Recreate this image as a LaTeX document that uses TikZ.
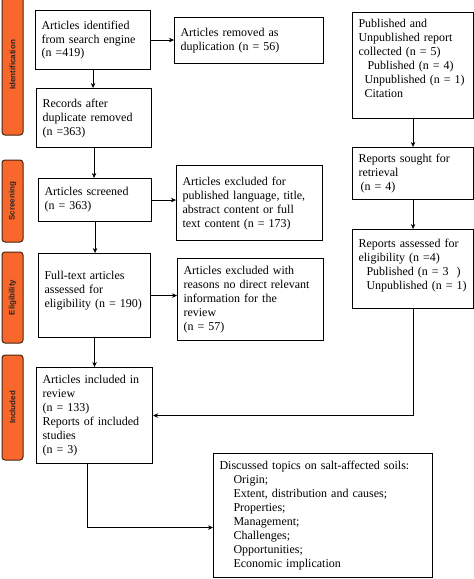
\documentclass[tikz,border=0pt]{standalone}
\usepackage{fontspec}
\setmainfont{Liberation Serif}
\setsansfont{Liberation Sans}
\usepackage{xcolor}
\usetikzlibrary{arrows.meta,calc}
\definecolor{phaseorange}{HTML}{F8682C}
\definecolor{phaseedge}{HTML}{4A2410}

\begin{document}
\begin{tikzpicture}[x=1pt,y=-1pt,>={Stealth[length=5pt,width=4.5pt]},
 box/.style={draw,line width=1.1pt,align=left,anchor=north west,inner xsep=6pt,inner ysep=2pt,font=\fontsize{12}{14}\selectfont},
 phase/.style={draw=phaseedge,line width=1pt,fill=phaseorange,rounded corners=3pt,rotate=90,minimum height=21pt,inner sep=0pt,font=\sffamily\bfseries\fontsize{8}{9}\selectfont,text=black!85},
 link/.style={->,line width=0.9pt}]
\useasboundingbox (0,0) rectangle (474,579);
% phases
\node[phase,minimum width=140pt] (idf) at (12.5,65) {Identification};
\node[phase,minimum width=82pt] (scr) at (12.5,201) {Screening};
\node[phase,minimum width=91pt] (elg) at (12.5,297.5) {Eligibility};
\node[phase,minimum width=105pt] (inc) at (12.5,407.5) {Included};
% left column
\node[box,text width=103pt,minimum height=59pt] (ident) at (35,10) {Articles identified\\from search engine\\(n =419)};
\node[box,text width=137pt,minimum height=46pt] (dupl) at (174,17) {Articles removed as\\duplication (n = 56)};
\node[box,text width=103pt,minimum height=59pt] (recs) at (36,88) {Records after\\duplicate removed\\(n =363)};
\node[box,text width=101pt,minimum height=43pt] (scrn) at (38,178) {Articles screened\\(n = 363)};
\node[box,text width=134pt,minimum height=75pt] (excl) at (176,165) {Articles excluded for\\published language, title,\\abstract content or full\\text content (n = 173)};
\node[box,text width=100pt,minimum height=84pt] (full) at (38,253) {Full-text articles\\assessed for\\eligibility (n = 190)\\[-2pt]\mbox{}};
\node[box,text width=134pt,minimum height=82pt] (rsn) at (177,258) {Articles excluded with\\reasons no direct relevant\\information for the\\review\\(n = 57)};
\node[box,text width=104pt,minimum height=96pt] (incl) at (36,367) {Articles included in\\review\\(n = 133)\\Reports of included\\studies\\(n = 3)};
% right column
\node[box,text width=109pt,minimum height=106pt] (coll) at (352,12) {Published and\\Unpublished report\\collected (n = 5)\\\hspace*{9pt}Published (n = 4)\\\hspace*{6pt}Unpublished (n = 1)\\\hspace*{6pt}Citation\\\mbox{}};
\node[box,text width=109pt,minimum height=52pt] (sght) at (352,147) {Reports sought for\\retrieval\\\hspace*{2pt}(n = 4)};
\node[box,text width=109pt,minimum height=79pt] (asmt) at (352,229) {Reports assessed for\\eligibility (n =4)\\\hspace*{8pt}Published (n = 3~~)\\\hspace*{8pt}Unpublished (n = 1)\\[-4pt]\mbox{}};
\node[box,text width=207pt,minimum height=124pt] (topc) at (213,453) {Discussed topics on salt-affected soils:\\
\hspace*{14pt}Origin;\\\hspace*{14pt}Extent, distribution and causes;\\\hspace*{14pt}Properties;\\\hspace*{14pt}Management;\\\hspace*{14pt}Challenges;\\\hspace*{14pt}Opportunities;\\\hspace*{14pt}Economic implication};
% connectors
\draw[link] (ident.south) -- (ident.south |- recs.north);
\draw[link] (recs.south) -- (recs.south |- scrn.north);
\draw[link] (scrn.south) -- (scrn.south |- full.north);
\draw[link] (full.south) -- (full.south |- incl.north);
\draw[link] (ident.east) -- (ident.east -| dupl.west);
\draw[link] (scrn.east) -- (scrn.east -| excl.west);
\draw[link] (full.east) -- (full.east -| rsn.west);
\draw[link] (coll.south) -- (coll.south |- sght.north);
\draw[link] (sght.south) -- (sght.south |- asmt.north);
\draw[link] (asmt.south) |- (incl.east);
\coordinate (drop) at ($(incl.south)+(-7,0)$);
\draw[link] (drop) |- ([yshift=-12pt]topc.west);
\end{tikzpicture}
\end{document}
